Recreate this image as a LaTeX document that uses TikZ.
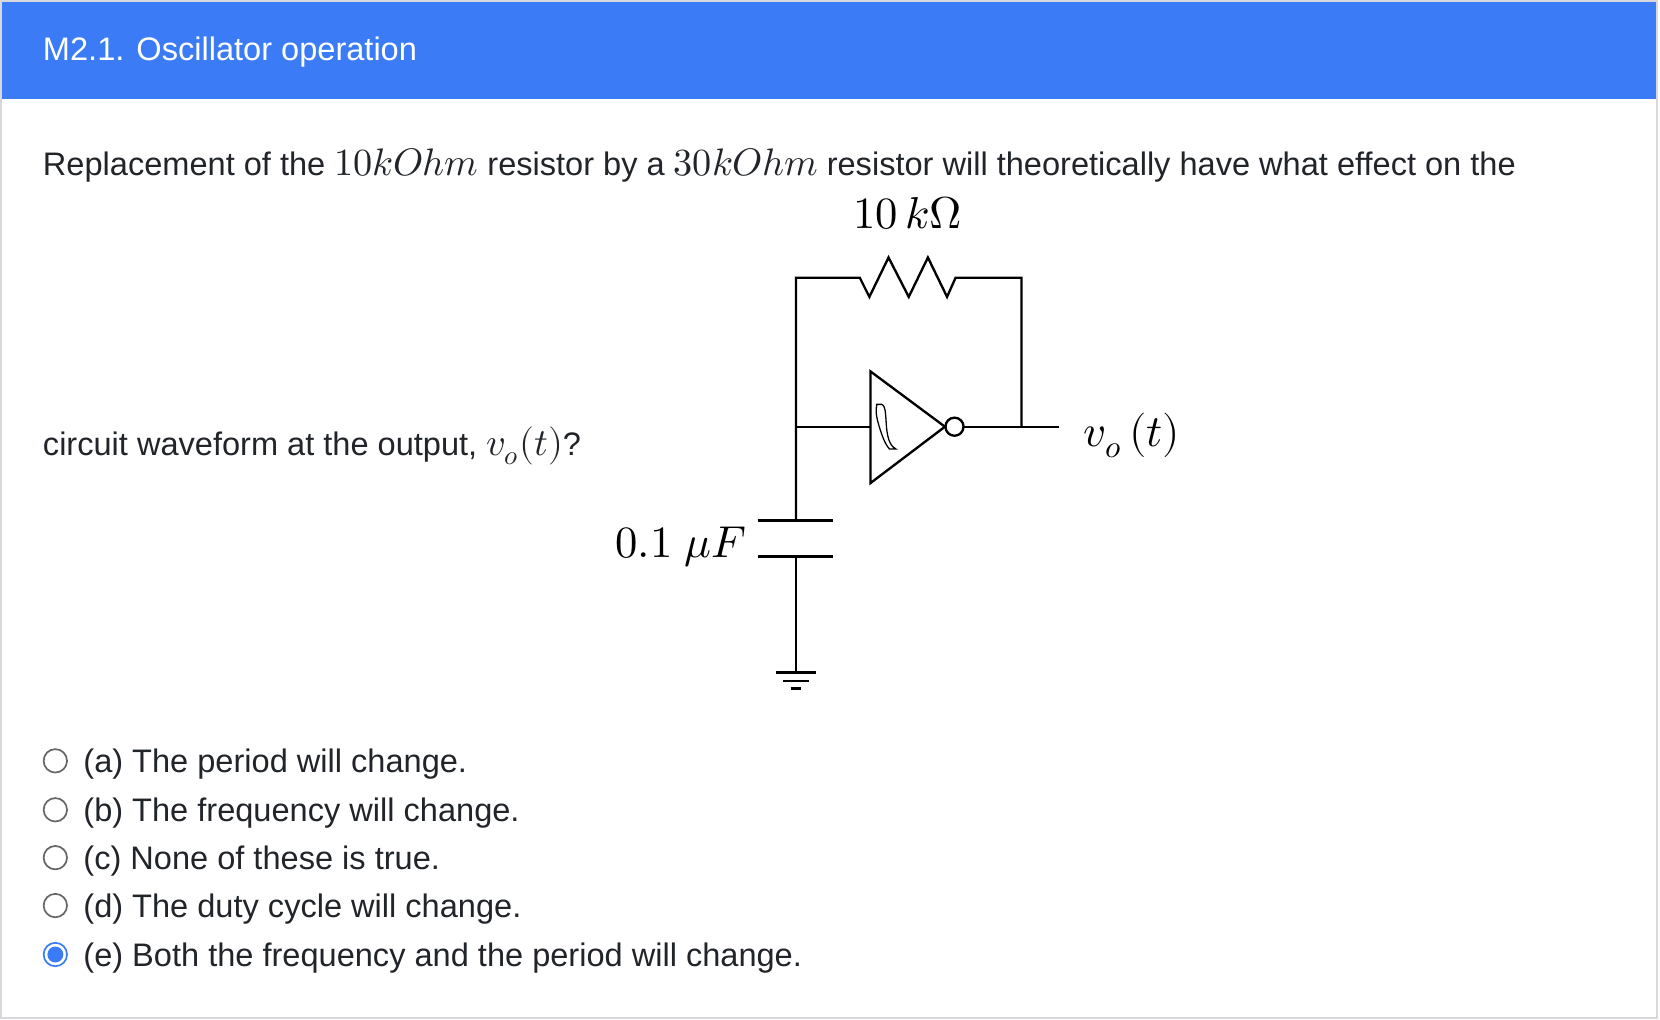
\documentclass[tikz,border=0pt]{standalone}
\usepackage{fontspec}
\setmainfont{Liberation Sans}
\usepackage{unicode-math}
\setmathfont{Latin Modern Math}
\definecolor{hdr}{HTML}{3B7CF6}
\definecolor{ink}{HTML}{212529}
\definecolor{card}{HTML}{D6D8DB}
\newcommand{\qmath}[1]{{\fontsize{18}{20}\selectfont$#1$}}
\begin{document}
\begin{tikzpicture}[x=0.5pt,y=-0.5pt,
  wire/.style={line width=1.1pt,black},
  body/.style={font=\fontsize{15.3}{18}\selectfont,text=ink,anchor=base west,inner sep=0},
  lab/.style={font=\fontsize{21}{24}\selectfont,inner sep=0},
  radio/.style={draw=gray!80!black,line width=0.8pt,fill=white}]
\useasboundingbox (0,0) rectangle (1560,958);
\fill[white] (0,0) rectangle (1560,958);
\draw[card,line width=1pt] (1,1) rectangle (1557,957);
\fill[hdr] (2,2) rectangle (1556,93);
\node[body,text=white] (title) at (40,57) {M2.1. Oscillator operation};
\node[body] (q1) at (40,165) {Replacement of the \qmath{10kOhm} resistor by a \qmath{30kOhm} resistor will theoretically have what effect on the};
\node[body] (q2) at (40,428) {circuit waveform at the output, \qmath{v_o(t)}?};
% circuit
\coordinate (tl) at (748,261);
\coordinate (tr) at (960,261);
\coordinate (ra) at (808,261);
\coordinate (rb) at (898,261);
\coordinate (jn) at (748,401);
\coordinate (in) at (818,401);
\coordinate (oj) at (960,401);
\coordinate (out) at (995,401);
\coordinate (cp1) at (748,489);
\coordinate (cp2) at (748,523);
\coordinate (gnd) at (748,632);
\draw[wire] (cp1) -- (jn) -- (tl) -- (ra) -- (817,279) -- (835,242) -- (854,279) -- (872,242) -- (890,279) -- (rb) -- (tr) -- (oj);
\draw[wire] (jn) -- (in);
\draw[wire] (818,349) -- (888,401) -- (818,454) -- cycle;
\draw[wire] (897,401) circle (8.5);
\draw[wire] (905.5,401) -- (out);
\draw[wire] (712,489) -- (783,489);
\draw[wire] (712,523) -- (783,523);
\draw[wire] (cp2) -- (gnd);
\draw[wire] (729,632) -- (767,632);
\draw[wire] (736,640) -- (760,640);
\draw[wire] (743,647) -- (753,647);
\draw[line width=0.6pt] (826,400) .. controls (823,390) and (823,385) .. (824,380) -- (829,380);
\draw[line width=0.6pt] (829,380) .. controls (832,382) and (832,386) .. (833,400) .. controls (834,415) and (838,420) .. (842,422) -- (836,422) .. controls (832,418) and (829,410) .. (826,400);
\node[lab] (rl) at (853,200) {$10\,k\Omega$};
\node[lab,anchor=east] (cl) at (702,514) {$0.1\;\mu F$};
\node[lab,anchor=west] (vl) at (1018,409) {$v_o\,(t)$};
% options
\foreach \y/\t [count=\i] in {715/(a) The period will change.,761/(b) The frequency will change.,806/(c) None of these is true.,851/(d) The duty cycle will change.}
  {\draw[radio] (52,\y) circle (11);
   \node[body] (o\i) at (78,\y+11) {\t};}
\draw[draw=hdr,line width=0.8pt,fill=white] (52,897) circle (11);
\fill[hdr] (52,897) circle (7.5);
\node[body] (o5) at (78,908) {(e) Both the frequency and the period will change.};
\end{tikzpicture}
\end{document}
